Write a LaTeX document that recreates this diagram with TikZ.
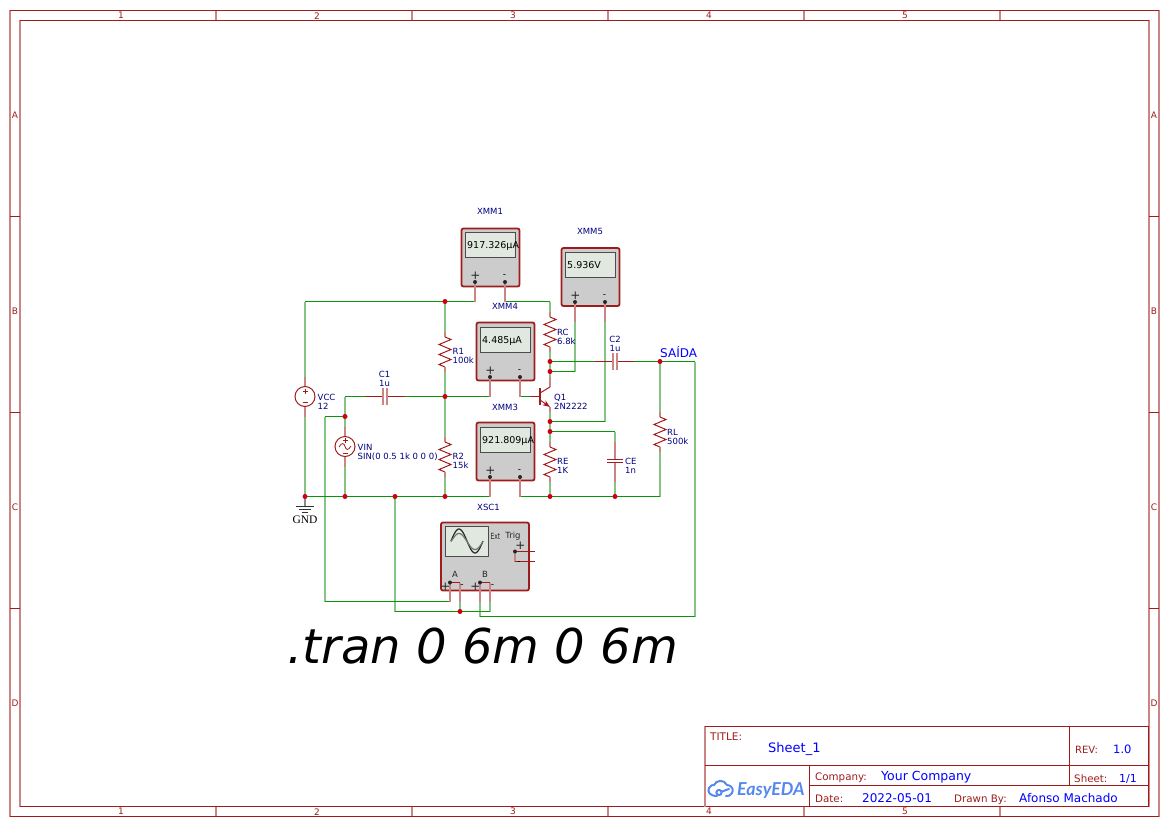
\documentclass[tikz,border=0pt]{standalone}
\usepackage{xcolor}
\usepackage{fontspec}
\setmainfont{DejaVu Sans}
\newfontfamily\gndfont{Liberation Serif}
\newfontfamily\logofont{Lato}
\usetikzlibrary{arrows.meta, calc}
\definecolor{framered}{HTML}{A01C1C}
\definecolor{frametint}{HTML}{CB8585}
\definecolor{wiregreen}{HTML}{0A940A}
\definecolor{wiretint}{HTML}{85C485}
\definecolor{dotred}{HTML}{D00010}
\definecolor{namenavy}{HTML}{000080}
\definecolor{valueblue}{HTML}{0000FF}
\definecolor{bodygrey}{HTML}{CCCCCC}
\definecolor{lcdgreen}{HTML}{E0E8E0}
\definecolor{logoblue}{HTML}{5588EE}

\newcommand{\zigres}[1]{%
  \draw[vpart] #1 -- ++(0,5);
  \draw[part] #1 ++(0,5) -- ++(6,2.5) -- ++(-12,5) -- ++(12,5) -- ++(-12,5) -- ++(12,5) -- ++(-12,5) -- ++(6,2.5);
  \draw[vpart] #1 ++(0,35) -- ++(0,5);}
\newcommand{\fs}[1]{\fontsize{#1}{#1}\selectfont}

\begin{document}
\begin{tikzpicture}[x=1pt, y=-1pt, >=Stealth,
    sheetline/.style={draw=framered, line width=1pt},
    vsheet/.style={draw=frametint, line width=2pt},
    wire/.style={draw=wiregreen, line width=1pt},
    vwire/.style={draw=wiretint, line width=2pt},
    part/.style={draw=framered, line width=1pt},
    vpart/.style={draw=frametint, line width=2pt},
    dot/.style={circle, fill=dotred, inner sep=0pt, minimum size=5pt},
    pinhead/.style={circle, fill=black!85, inner sep=0pt, minimum size=4pt},
    meter/.style={rectangle, rounded corners=2pt, draw=framered, line width=1.8pt, fill=bodygrey,
      minimum width=58pt, minimum height=58pt, inner sep=0pt},
    lcd/.style={rectangle, draw=black!70, line width=1pt, fill=lcdgreen, minimum width=50pt,
      minimum height=25pt, inner sep=0pt},
    source/.style={circle, draw=framered, line width=1pt, minimum size=20pt, inner sep=0pt},
    reading/.style={anchor=base west, inner sep=0pt, font=\fs{9.5}, text=black},
    sym/.style={inner sep=0pt, font=\fs{12}, text=black!85},
    minussym/.style={inner sep=0pt, font=\fs{9}, text=black},
    lbl/.style={anchor=base west, inner sep=0pt, font=\fs{8.5}, text=namenavy},
    ref/.style={anchor=base, inner sep=0pt, font=\fs{8.5}, text=namenavy},
    edge/.style={inner sep=0pt, font=\fs{9}, text=framered},
    tkey/.style={anchor=base west, inner sep=0pt, font=\fs{10.3}, text=framered},
    tval/.style={anchor=base west, inner sep=0pt, font=\fs{12}, text=valueblue}]

    \useasboundingbox (0,0) rectangle (1169,827);

    % Sheet border
    \draw[vsheet] (10,10) -- (10,817) (20,20) -- (20,807) (1149,20) -- (1149,807) (1159,10) -- (1159,817);
    \draw[vsheet] (216,10.5) -- (216,20.5) (412,10.5) -- (412,20.5) (608,10.5) -- (608,20.5) (804,10.5) -- (804,20.5) (1000,10.5) -- (1000,20.5);
    \draw[vsheet] (216,806.5) -- (216,816.5) (412,806.5) -- (412,816.5) (608,806.5) -- (608,816.5) (804,806.5) -- (804,816.5) (1000,806.5) -- (1000,816.5);
    \draw[sheetline] (10,10.5) -- (1159,10.5) (20,20.5) -- (1149,20.5) (20,806.5) -- (1149,806.5) (10,816.5) -- (1159,816.5);
    \draw[sheetline] (10,216.5) -- (20,216.5) (10,412.5) -- (20,412.5) (10,608.5) -- (20,608.5);
    \draw[sheetline] (1149,216.5) -- (1159,216.5) (1149,412.5) -- (1159,412.5) (1149,608.5) -- (1159,608.5);

    \node[edge] (top1) at (121,15.7) {1};
    \node[edge] (top2) at (317,15.7) {2};
    \node[edge] (top3) at (513,15.7) {3};
    \node[edge] (top4) at (709,15.7) {4};
    \node[edge] (top5) at (905,15.7) {5};
    \node[edge] (bot1) at (121,811.7) {1};
    \node[edge] (bot2) at (317,811.7) {2};
    \node[edge] (bot3) at (513,811.7) {3};
    \node[edge] (bot4) at (709,811.7) {4};
    \node[edge] (bot5) at (905,811.7) {5};
    \node[edge] (leftA) at (15,115.3) {A};
    \node[edge] (leftB) at (15,311.3) {B};
    \node[edge] (leftC) at (15,507.3) {C};
    \node[edge] (leftD) at (15,703.3) {D};
    \node[edge] (rightA) at (1154,115.3) {A};
    \node[edge] (rightB) at (1154,311.3) {B};
    \node[edge] (rightC) at (1154,507.3) {C};
    \node[edge] (rightD) at (1154,703.3) {D};

    % Title block
    \draw[vsheet] (705,726) -- (705,807);
    \draw[sheetline] (705,726.5) -- (1149,726.5) (705,765.5) -- (1149,765.5) (809.5,785.5) -- (1149,785.5);
    \draw[sheetline] (809.5,765.5) -- (809.5,806.5);
    \draw[sheetline] (1069.5,726.5) -- (1069.5,785.5);
    \draw[sheetline] (1148.5,726.5) -- (1148.5,806.5);

    \node[tkey, font=\fs{10.5}] (titlekey) at (710,740) {TITLE:};
    \node[tval, font=\fs{13}] (titleval) at (768,752) {Sheet\_1};
    \node[tkey, font=\fs{10}] (revkey) at (1075,753) {REV:};
    \node[tval, font=\fs{11.5}] (revval) at (1113,753) {1.0};
    \node[tkey] (compkey) at (815,780) {Company:};
    \node[tval, font=\fs{12.5}] (compval) at (881,780) {Your Company};
    \node[tkey] (sheetkey) at (1074,782) {Sheet:};
    \node[tval, font=\fs{11}] (sheetval) at (1119,782) {1/1};
    \node[tkey] (datekey) at (815,802) {Date:};
    \node[tval] (dateval) at (862,802) {2022-05-01};
    \node[tkey] (drawnkey) at (954,802) {Drawn By:};
    \node[tval] (drawnval) at (1019,802) {Afonso Machado};

    % Logo
    \draw[logoblue, line width=2pt, line cap=round, line join=round]
      (717,796) .. controls (710,796) and (707,792) .. (709,788)
      .. controls (710,785) and (713,785) .. (714,785)
      .. controls (716,780) and (724,779) .. (727,785)
      .. controls (732,785) and (734,790) .. (732,793)
      .. controls (731,796) and (728,796) .. (726,796);
    \draw[logoblue, line width=2pt, line cap=round] (719,792.5) circle (2.6pt);
    \draw[logoblue, line width=2pt, line cap=round] (722,791.5) -- (729,789);
    \node[anchor=base west, inner sep=0pt, text=logoblue, font=\logofont\bfseries\itshape\fs{17.8}] (logo) at (737,795) {EasyEDA};

    % Instruments
    \node[meter] (xmm1) at (490.5,257.5) {};
    \node[lcd] (lcd1) at (490.5,244.5) {};
    \node[meter] (xmm5) at (590.5,277) {};
    \node[lcd] (lcd5) at (590.5,264.5) {};
    \node[meter] (xmm4) at (505.5,351.5) {};
    \node[lcd] (lcd4) at (505.5,339.5) {};
    \node[meter] (xmm3) at (505.5,451.5) {};
    \node[lcd] (lcd3) at (505.5,439.5) {};
    \node[meter, minimum width=88pt, minimum height=68pt] (xsc1) at (485,556.5) {};
    \node[lcd, minimum width=43pt, minimum height=30pt] (lcds) at (466.5,541) {};

    \node[reading] (read1) at (467,248) {917.326µA};
    \node[reading] (read5) at (567,268) {5.936V};
    \node[reading] (read4) at (482,343) {4.485µA};
    \node[reading] (read3) at (482,443) {921.809µA};

    \draw[black!85, line width=1.2pt] plot[domain=0:360, samples=40] ({451+\x/360*32},{541-12*sin(\x)});
    \draw[black!55, line width=1.2pt] plot[domain=0:360, samples=40] ({451+\x/360*32},{541.5-8*sin(\x)});

    % Pins and corners
    \coordinate (m1p) at (475,282);
    \coordinate (m1n) at (505,282);
    \coordinate (m5p) at (575,302);
    \coordinate (m5n) at (605,302);
    \coordinate (m4p) at (490,377);
    \coordinate (m4n) at (520,377);
    \coordinate (m3p) at (490,477);
    \coordinate (m3n) at (520,477);
    \coordinate (m1pend) at (475,301.5);
    \coordinate (m1nend) at (505,301.5);
    \coordinate (m5pend) at (575,322);
    \coordinate (m5nend) at (605,322);
    \coordinate (m4pend) at (490,396.5);
    \coordinate (m4nend) at (520,396.5);
    \coordinate (m3pend) at (490,496.5);
    \coordinate (m3nend) at (520,496.5);
    \coordinate (scpa) at (450,582.5);
    \coordinate (scpb) at (480,582.5);
    \coordinate (scpaN) at (460,582.5);
    \coordinate (scpbN) at (490,582.5);
    \coordinate (scpaend) at (450,601.5);
    \coordinate (scpbend) at (480,602);
    \coordinate (scpaNend) at (460,602);
    \coordinate (scpbNend) at (490,602);
    \coordinate (trig) at (515,551.5);

    \coordinate (nwc) at (305,301.5);
    \coordinate (nec) at (550,301.5);
    \coordinate (vcctop) at (305,377);
    \coordinate (vccbot) at (305,416.5);
    \coordinate (vintop) at (345,427);
    \coordinate (vinbot) at (345,467);
    \coordinate (c1in) at (345,396.5);
    \coordinate (c1left) at (365,396.5);
    \coordinate (c1right) at (405,396.5);
    \coordinate (r1top) at (445,332);
    \coordinate (r1bot) at (445,372);
    \coordinate (r2top) at (445,437);
    \coordinate (r2bot) at (445,477);
    \coordinate (rctop) at (550,312);
    \coordinate (rcbot) at (550,352);
    \coordinate (retop) at (550,442);
    \coordinate (rebot) at (550,482);
    \coordinate (rltop) at (660,412);
    \coordinate (rlbot) at (660,452);
    \coordinate (rlend) at (660,496.5);
    \coordinate (c2left) at (595,361.5);
    \coordinate (c2right) at (635,361.5);
    \coordinate (outc) at (695,361.5);
    \coordinate (outbot) at (695,616.5);
    \coordinate (outend) at (480,616.5);
    \coordinate (cetop) at (615,442);
    \coordinate (cecorner) at (615,431.5);
    \coordinate (cebot) at (615,482);
    \coordinate (qcol) at (550,377);
    \coordinate (qcolb) at (550,387);
    \coordinate (qcolc) at (540,393);
    \coordinate (qemc) at (540,400);
    \coordinate (qemb) at (550,407);
    \coordinate (qem) at (550,412);
    \coordinate (qbase) at (530,396.5);
    \coordinate (qbar) at (540,396.5);
    \coordinate (m5ncorner) at (605,421.5);
    \coordinate (m5pcorner) at (575,371.5);
    \coordinate (inleft) at (325,416.5);
    \coordinate (inbot) at (325,601.5);
    \coordinate (gndleg) at (395,611.5);
    \coordinate (busright) at (490,611.5);
    \coordinate (trigend) at (535,551.5);
    \coordinate (trigdown) at (515,561.5);
    \coordinate (trigdownend) at (535,561.5);
    \coordinate (gndbar) at (305,506.5);

    \coordinate (jvcc) at (445,301.5);
    \coordinate (jbase) at (445,396.5);
    \coordinate (jin) at (345,416.5);
    \coordinate (jgnd) at (305,496.5);
    \coordinate (jvin) at (345,496.5);
    \coordinate (jscope) at (395,496.5);
    \coordinate (jr2) at (445,496.5);
    \coordinate (jrc) at (550,361.5);
    \coordinate (jcol) at (550,371.5);
    \coordinate (jem) at (550,421.5);
    \coordinate (jre) at (550,431.5);
    \coordinate (jout) at (660,361.5);
    \coordinate (jrebot) at (550,496.5);
    \coordinate (jce) at (615,496.5);
    \coordinate (jsca) at (460,611.5);

    % Wires, upright runs
    \draw[vwire] (vcctop) -- (nwc);
    \draw[vwire] (jvcc) -- (r1top);
    \draw[vwire] (r1bot) -- (r2top);
    \draw[vwire] (r2bot) -- (jr2);
    \draw[vwire] (c1in) -- (vintop);
    \draw[vwire] (inleft) -- (inbot);
    \draw[vwire] (vccbot) -- (jgnd);
    \draw[vwire] (vinbot) -- (jvin);
    \draw[vwire] (jscope) -- (gndleg);
    \draw[vwire] (busright) -- (scpbNend);
    \draw[vwire] (jsca) -- (scpaNend);
    \draw[vwire] (nec) -- (rctop);
    \draw[vwire] (rcbot) -- (qcol);
    \draw[vwire] (outc) -- (outbot);
    \draw[vwire] (outend) -- (scpbend);
    \draw[vwire] (jout) -- (rltop);
    \draw[vwire] (rlbot) -- (rlend);
    \draw[vwire] (m5pcorner) -- (m5pend);
    \draw[vwire] (m5nend) -- (m5ncorner);
    \draw[vwire] (qem) -- (retop);
    \draw[vwire] (rebot) -- (jrebot);
    \draw[vwire] (cecorner) -- (cetop);
    \draw[vwire] (cebot) -- (jce);

    % Wires, level runs
    \draw[wire] (nwc) -- (m1pend);
    \draw[wire] (c1right) -- (m4pend);
    \draw[wire] (c1left) -- (c1in);
    \draw[wire] (jin) -- (inleft);
    \draw[wire] (inbot) -- (scpaend);
    \draw[wire] (jgnd) -- (m3pend);
    \draw[wire] (gndleg) -- (busright);
    \draw[wire] (m1nend) -- (nec);
    \draw[wire] (jrc) -- (c2left);
    \draw[wire] (c2right) -- (outc);
    \draw[wire] (outbot) -- (outend);
    \draw[wire] (rlend) -- (m3nend);
    \draw[wire] (jcol) -- (m5pcorner);
    \draw[wire] (m5ncorner) -- (jem);
    \draw[wire] (jre) -- (cecorner);
    \draw[wire] (m4nend) -- (qbase);

    % Leads
    \draw[vpart] (m1p) -- (m1pend);
    \draw[vpart] (m1n) -- (m1nend);
    \draw[vpart] (m5p) -- (m5pend);
    \draw[vpart] (m5n) -- (m5nend);
    \draw[vpart] (m4p) -- (m4pend);
    \draw[vpart] (m4n) -- (m4nend);
    \draw[vpart] (m3p) -- (m3pend);
    \draw[vpart] (m3n) -- (m3nend);
    \draw[vpart] (scpa) -- (scpaend);
    \draw[vpart] (scpaN) -- (scpaNend);
    \draw[vpart] (scpb) -- (scpbend);
    \draw[vpart] (scpbN) -- (scpbNend);
    \draw[vpart] (trig) -- (trigdown);
    \draw[part] (scpa) -- (scpaN);
    \draw[part] (scpb) -- (scpbN);
    \draw[part] (trig) -- (trigend);
    \draw[part] (trigdown) -- (trigdownend);

    % Resistors
    \zigres{(r1top)}
    \zigres{(r2top)}
    \zigres{(rctop)}
    \zigres{(retop)}
    \zigres{(rltop)}

    % Capacitors
    \draw[part] (c1left) -- (383,396.5);
    \draw[part] (387,396.5) -- (c1right);
    \draw[vpart] (383,388) -- (383,405);
    \draw[vpart] (387,388) -- (387,405);
    \draw[part] (c2left) -- (613,361.5);
    \draw[part] (617,361.5) -- (c2right);
    \draw[vpart] (613,353) -- (613,370);
    \draw[vpart] (617,353) -- (617,370);
    \draw[vpart] (cetop) -- (615,459.5);
    \draw[vpart] (615,462.5) -- (cebot);
    \draw[part] (607,459.5) -- (623,459.5);
    \draw[part] (607,462.5) -- (623,462.5);

    % Sources
    \node[source] (vcc) at (305,396.5) {};
    \node[source] (vin) at (345,446.5) {};
    \draw[vpart] (vcc) -- (vcctop);
    \draw[vpart] (vcc) -- (vccbot);
    \draw[vpart] (vin) -- (vintop);
    \draw[vpart] (vin) -- (vinbot);
    \draw[part, line width=0.8pt] (302.5,391) -- (307.5,391) (305,388.5) -- (305,393.5);
    \draw[part, line width=0.8pt] (302.5,402.5) -- (307.5,402.5);
    \draw[part, line width=0.8pt] (342.5,440) -- (347.5,440) (345,437.5) -- (345,442.5);
    \draw[part, line width=0.8pt] (342.5,453) -- (347.5,453);
    \draw[part, line width=0.8pt] (339,447) .. controls (342,442) and (344,443) .. (345,446.5) .. controls (346,450) and (348,451) .. (351,446);

    % Transistor
    \draw[part] (qbase) -- (qbar);
    \draw[part, line width=1.2pt] (540,388) -- (540,405);
    \draw[vpart] (qcol) -- (qcolb);
    \draw[part] (qcolb) -- (qcolc);
    \draw[part, ->] (qemc) -- (qemb);
    \draw[vpart] (qemb) -- (qem);
    \draw[vwire] (qem) -- (jem);

    % Ground
    \draw[vsheet, draw=black!45] (jgnd) -- (gndbar);
    \draw[black!80, line width=1pt] (296,506.5) -- (314,506.5);
    \draw[black!80, line width=1pt] (299,509.5) -- (311,509.5);
    \draw[black!80, line width=1pt] (302,512.5) -- (308,512.5);

    % Junctions
    \node[dot] (djvcc) at (jvcc) {};
    \node[dot] (djbase) at (jbase) {};
    \node[dot] (djin) at (jin) {};
    \node[dot] (djgnd) at (jgnd) {};
    \node[dot] (djvin) at (jvin) {};
    \node[dot] (djscope) at (jscope) {};
    \node[dot] (djr2) at (jr2) {};
    \node[dot] (djrc) at (jrc) {};
    \node[dot] (djcol) at (jcol) {};
    \node[dot] (djem) at (jem) {};
    \node[dot] (djre) at (jre) {};
    \node[dot] (djout) at (jout) {};
    \node[dot] (djrebot) at (jrebot) {};
    \node[dot] (djce) at (jce) {};
    \node[dot] (djsca) at (jsca) {};

    % Pin heads and signs
    \node[pinhead] (ph1p) at (m1p) {};
    \node[pinhead] (ph1n) at (m1n) {};
    \node[pinhead] (ph5p) at (m5p) {};
    \node[pinhead] (ph5n) at (m5n) {};
    \node[pinhead] (ph4p) at (m4p) {};
    \node[pinhead] (ph4n) at (m4n) {};
    \node[pinhead] (ph3p) at (m3p) {};
    \node[pinhead] (ph3n) at (m3n) {};
    \node[pinhead] (phsa) at (scpa) {};
    \node[pinhead] (phsb) at (scpb) {};
    \node[pinhead] (phtr) at (trig) {};

    \node[sym] (plus1) at (475.5,275.5) {+};
    \node[sym] (plus5) at (575.5,295.5) {+};
    \node[sym] (plus4) at (490.5,370.5) {+};
    \node[sym] (plus3) at (490.5,470.5) {+};
    \node[minussym] (minus1) at (504.5,276) {-};
    \node[minussym] (minus5) at (604.5,296) {-};
    \node[minussym] (minus4) at (519.5,371) {-};
    \node[minussym] (minus3) at (519.5,471) {-};
    \node[sym] (plusa) at (445.5,586.5) {+};
    \node[minussym] (minusa) at (462,586) {-};
    \node[sym] (plusb) at (475.5,586.5) {+};
    \node[minussym] (minusb) at (492.5,586) {-};
    \node[sym] (plust) at (520.5,546) {+};
    \node[minussym] (minust) at (519,563.5) {-};
    \node[sym, font=\fs{8.5}, xscale=0.7, transform shape] (exttxt) at (495.5,536) {Ext};
    \node[sym, font=\fs{8.5}] (trigtxt) at (513,536) {Trig};
    \node[sym, font=\fs{8.5}] (chatxt) at (455,574.5) {A};
    \node[sym, font=\fs{8.5}] (chbtxt) at (485,574.5) {B};

    % Names and values
    \node[ref] (nxmm1) at (490,214.5) {XMM1};
    \node[ref] (nxmm5) at (590,234.5) {XMM5};
    \node[ref] (nxmm4) at (505,309.5) {XMM4};
    \node[ref] (nxmm3) at (505,410) {XMM3};
    \node[ref] (nxsc1) at (488.5,510) {XSC1};
    \node[lbl] (nr1) at (452.5,354.5) {R1};
    \node[lbl] (vr1) at (452.5,363.5) {100k};
    \node[lbl] (nr2) at (452.5,459.5) {R2};
    \node[lbl] (vr2) at (452.5,468.5) {15k};
    \node[lbl] (nrc) at (557,335) {RC};
    \node[lbl] (vrc) at (557,344) {6.8k};
    \node[lbl] (nre) at (557,464.5) {RE};
    \node[lbl] (vre) at (557,473.5) {1K};
    \node[lbl] (nrl) at (667,435) {RL};
    \node[lbl] (vrl) at (667,444) {500k};
    \node[lbl] (nce) at (625,464.5) {CE};
    \node[lbl] (vce) at (625,473.5) {1n};
    \node[ref] (nc1) at (384.5,377) {C1};
    \node[ref] (vc1) at (384.5,386) {1u};
    \node[ref] (nc2) at (615,342) {C2};
    \node[ref] (vc2) at (615,351) {1u};
    \node[lbl] (nq1) at (554,400) {Q1};
    \node[lbl] (vq1) at (554,409) {2N2222};
    \node[lbl] (nvcc) at (317.5,400) {VCC};
    \node[lbl] (vvcc) at (317.5,409) {12};
    \node[lbl] (nvin) at (357.5,450) {VIN};
    \node[lbl] (vvin) at (357.5,459) {SIN(0 0.5 1k 0 0 0)};
    \node[anchor=base, inner sep=0pt, text=black, font=\gndfont\fs{11.5}] (ngnd) at (305,523) {GND};
    \node[anchor=base west, inner sep=0pt, text=valueblue, font=\fs{12}] (saida) at (660,357) {SAÍDA};
    \node[anchor=base west, inner sep=0pt, text=black, font=\itshape\fs{48}] (tran) at (287.5,663) {.tran 0 6m 0 6m};
\end{tikzpicture}
\end{document}
